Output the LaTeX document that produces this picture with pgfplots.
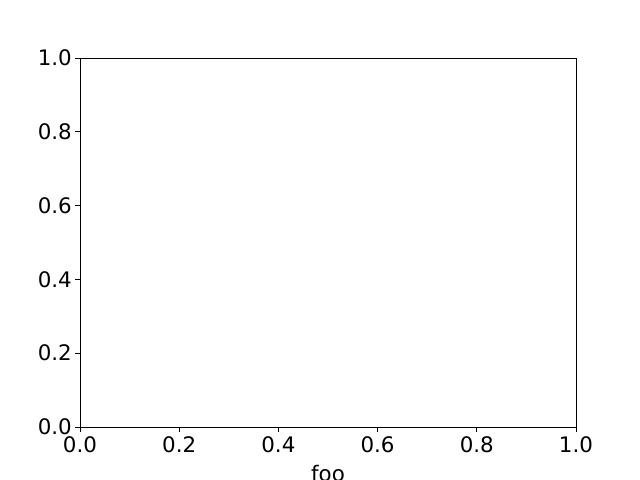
\documentclass[border=0pt]{standalone}
\usepackage{pgfplots}
\pgfplotsset{compat=1.18}
\usepackage{fontspec}
\setmainfont{DejaVu Sans}
\begin{document}
\begin{tikzpicture}[x=1pt,y=1pt]
\useasboundingbox (-57.6,-38.16) rectangle (403.2,307.44);
\begin{axis}[at={(0,0)},anchor=south west,
  scale only axis, width=357.12pt, height=265.68pt,
  xmin=0,xmax=1,ymin=0,ymax=1,
  xtick={0,0.2,0.4,0.6,0.8,1}, ytick={0,0.2,0.4,0.6,0.8,1},
  tick align=outside, tick pos=left, major tick length=3.5pt,
  every tick/.style={black, line width=0.6pt},
  axis line style={line width=0.6pt},
  font=\fontsize{15.4}{18}\selectfont,
  ticklabel style={font=\fontsize{15.4}{18}\selectfont},
  label style={font=\fontsize{15.4}{18}\selectfont},
  /pgf/number format/assume math mode=true,
  /pgf/number format/fixed, /pgf/number format/fixed zerofill, /pgf/number format/precision=1,
  xticklabel style={inner sep=0pt, yshift=-3.5pt},
  yticklabel style={inner sep=0pt, xshift=-2.2pt},
  xlabel={foo},
  xlabel style={at={(axis description cs:0.5,0)}, anchor=north, inner sep=0pt, yshift=-27pt},
]
\end{axis}
\end{tikzpicture}
\end{document}
